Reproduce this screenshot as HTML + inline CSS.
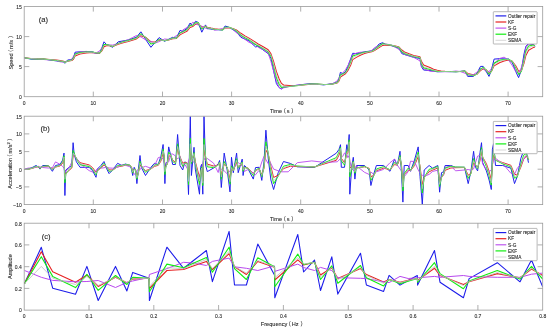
<!DOCTYPE html>
<html><head><meta charset="utf-8"><title>Filter comparison</title>
<style>html,body{margin:0;padding:0;background:#fff}svg{display:block}svg text{font-family:"Liberation Sans","Noto Sans CJK SC",sans-serif}</style></head>
<body>
<svg width="550" height="332" viewBox="0 0 550 332" font-family="Liberation Sans, Noto Sans CJK SC, sans-serif">
<rect width="550" height="332" fill="#fff"/>
<style>text{stroke:#333;stroke-width:0.1px;paint-order:stroke}</style>
<clipPath id="cpa"><rect x="24.2" y="6.5" width="518.5" height="90.2"/></clipPath>
<g clip-path="url(#cpa)" fill="none" stroke-linejoin="round">
<polyline points="24.5,57.8 30.9,59.1 43.6,59.1 56.4,60.9 63.6,61.8 64.9,63.3 67.6,60.0 71.8,59.6 73.6,57.3 75.1,52.2 80.0,51.8 92.7,51.8 95.5,53.3 99.6,53.3 101.8,48.2 104.0,41.8 106.4,44.5 109.1,45.5 112.7,47.3 118.2,41.8 128.2,40.0 136.4,37.3 140.9,31.8 145.5,39.1 150.9,47.3 159.1,37.6 164.5,41.3 172.7,37.3 176.4,38.2 180.0,30.4 182.7,31.5 187.3,28.2 190.0,23.1 192.7,25.5 195.5,21.3 198.2,22.4 201.8,32.2 205.5,24.9 207.3,28.5 214.5,29.6 222.7,30.0 225.1,26.0 229.1,27.3 236.4,31.8 240.9,37.3 249.1,40.9 255.5,46.9 258.2,46.4 268.2,53.6 270.9,58.2 273.6,70.9 276.4,83.6 279.1,87.6 281.5,89.1 283.6,86.9 289.1,86.4 300.0,84.9 310.9,83.6 323.6,84.9 332.7,83.6 337.3,81.8 339.1,78.2 340.4,72.4 342.7,73.6 345.5,71.8 348.2,65.5 350.9,58.2 352.7,53.3 357.3,53.6 364.5,51.8 371.8,50.9 374.5,49.1 379.1,44.0 382.7,42.7 385.5,44.5 391.8,45.8 399.1,48.2 401.8,53.6 404.5,54.5 413.6,57.3 420.0,58.5 421.3,66.4 423.6,70.0 430.0,70.5 437.3,71.8 445.0,71.5 455.9,71.8 465.0,70.9 467.7,76.4 473.2,76.4 476.8,73.6 480.5,66.4 483.2,66.4 485.9,70.9 489.0,76.4 491.4,70.0 494.1,59.1 499.5,58.7 508.6,59.1 512.3,62.7 515.9,71.8 518.6,77.6 521.4,70.0 524.1,53.6 525.9,46.4 528.6,43.6 533.2,44.5 535.0,46.4" stroke="#1c1cea" stroke-width="1.00"/>
<polyline points="24.5,57.8 30.9,58.4 37.2,58.7 43.6,58.9 50.0,59.4 56.4,60.1 60.0,60.6 63.6,61.2 64.9,62.1 67.6,61.2 71.8,60.5 73.6,59.0 75.1,56.0 80.0,54.1 86.3,53.1 92.7,52.5 95.5,52.9 99.6,53.1 101.8,50.9 104.0,46.8 106.4,45.8 109.1,45.6 112.7,46.4 118.2,44.3 123.2,42.8 128.2,41.5 132.3,40.2 136.4,38.9 140.9,35.7 145.5,37.2 150.9,41.8 155.0,42.1 159.1,40.1 164.5,40.6 168.6,40.0 172.7,38.8 176.4,38.5 180.0,34.9 182.7,33.4 187.3,31.0 190.0,27.5 192.7,26.6 195.5,24.2 198.2,23.4 201.8,27.4 205.5,26.3 207.3,27.3 210.9,28.1 214.5,28.8 218.6,29.2 222.7,29.6 225.1,28.0 229.1,27.7 232.8,28.5 236.4,30.0 240.9,33.3 245.0,35.9 249.1,38.1 255.5,42.1 258.2,44.0 263.2,46.7 268.2,49.8 270.9,53.6 273.6,61.4 276.4,71.4 279.1,78.7 281.5,83.4 283.6,85.0 289.1,85.6 294.6,85.6 300.0,85.3 305.4,84.8 310.9,84.3 317.2,84.3 323.6,84.6 328.1,84.4 332.7,84.0 337.3,83.0 339.1,80.9 340.4,77.1 342.7,75.5 345.5,73.8 348.2,70.1 350.9,64.7 352.7,59.6 357.3,56.9 360.9,55.0 364.5,53.6 368.1,52.6 371.8,51.8 374.5,50.6 379.1,47.6 382.7,45.4 385.5,45.0 391.8,45.4 395.5,46.1 399.1,47.0 401.8,50.0 404.5,52.0 409.1,53.8 413.6,55.4 420.0,56.8 421.3,61.1 423.6,65.1 430.0,67.5 433.6,69.2 437.3,70.3 441.1,70.9 445.0,71.2 450.4,71.4 455.9,71.6 460.4,71.5 465.0,71.2 467.7,73.5 473.2,74.8 476.8,74.3 480.5,70.7 483.2,68.8 485.9,69.7 489.0,72.7 491.4,71.5 494.1,65.9 499.5,62.7 504.1,61.0 508.6,60.1 512.3,61.3 515.9,66.0 518.6,71.2 521.4,70.7 524.1,63.0 525.9,55.5 528.6,50.2 533.2,47.6 535.0,47.1" stroke="#e62222" stroke-width="1.02"/>
<polyline points="24.5,58.2 30.9,58.6 37.2,59.0 43.6,59.5 50.0,60.0 56.4,60.6 60.0,61.8 63.6,62.1 64.9,61.9 67.6,61.3 71.8,59.1 73.6,56.1 75.1,53.8 80.0,51.8 86.3,51.4 92.7,52.7 95.5,53.2 99.6,51.0 101.8,47.9 104.0,45.0 106.4,44.4 109.1,44.9 112.7,45.1 118.2,43.4 123.2,41.4 128.2,39.8 132.3,37.7 136.4,35.5 140.9,36.9 145.5,39.8 150.9,41.5 155.0,43.1 159.1,41.6 164.5,39.0 168.6,39.4 172.7,38.2 176.4,35.6 180.0,33.5 182.7,30.0 187.3,27.3 190.0,25.6 192.7,22.3 195.5,23.6 198.2,25.0 201.8,26.2 205.5,28.1 207.3,28.8 210.9,28.2 214.5,30.2 218.6,29.5 222.7,28.5 225.1,27.7 229.1,27.4 232.8,29.2 236.4,32.8 240.9,35.7 245.0,39.4 249.1,42.4 255.5,44.6 258.2,47.4 263.2,49.6 268.2,53.1 270.9,61.3 273.6,71.1 276.4,80.8 279.1,87.3 281.5,88.9 283.6,87.8 289.1,86.6 294.6,85.5 300.0,84.8 305.4,84.2 310.9,84.1 317.2,84.3 323.6,84.5 328.1,84.5 332.7,83.7 337.3,80.8 339.1,77.7 340.4,75.2 342.7,72.9 345.5,69.8 348.2,65.1 350.9,59.2 352.7,54.8 357.3,52.7 360.9,52.2 364.5,52.2 368.1,51.7 371.8,50.3 374.5,47.7 379.1,45.3 382.7,43.8 385.5,43.9 391.8,45.1 395.5,47.3 399.1,49.6 401.8,52.1 404.5,54.5 409.1,55.7 413.6,57.3 420.0,60.9 421.3,65.0 423.6,68.7 430.0,71.2 433.6,71.5 437.3,71.5 441.1,71.7 445.0,71.7 450.4,71.7 455.9,71.0 460.4,71.6 465.0,73.2 467.7,75.1 473.2,74.8 476.8,72.2 480.5,68.6 483.2,68.8 485.9,71.3 489.0,71.7 491.4,68.6 494.1,63.4 499.5,58.5 504.1,57.2 508.6,60.1 512.3,65.5 515.9,71.7 518.6,72.9 521.4,67.6 524.1,57.4 525.9,47.8 528.6,43.7 533.2,44.3 535.0,45.5" stroke="#b848ee" stroke-width="0.93"/>
<polyline points="24.5,57.8 30.9,58.7 37.2,58.9 43.6,59.0 50.0,59.7 56.4,60.5 60.0,61.1 63.6,61.5 64.9,62.7 67.6,60.9 71.8,60.0 73.6,58.2 75.1,54.3 80.0,52.6 86.3,52.1 92.7,51.9 95.5,52.8 99.6,53.1 101.8,49.9 104.0,44.5 106.4,44.5 109.1,45.2 112.7,46.6 118.2,43.4 123.2,41.8 128.2,40.6 132.3,39.3 136.4,38.0 140.9,33.9 145.5,37.3 150.9,43.9 155.0,42.9 159.1,39.4 164.5,40.7 168.6,39.8 172.7,38.1 176.4,38.2 180.0,33.0 182.7,32.0 187.3,29.5 190.0,25.3 192.7,25.4 195.5,22.7 198.2,22.5 201.8,28.9 205.5,26.3 207.3,27.7 210.9,28.6 214.5,29.3 218.6,29.6 222.7,29.9 225.1,27.3 229.1,27.3 232.8,28.8 236.4,30.8 240.9,35.1 245.0,37.7 249.1,39.8 255.5,44.5 258.2,45.8 263.2,48.6 268.2,51.9 270.9,56.1 273.6,65.9 276.4,77.6 279.1,84.2 281.5,87.4 283.6,87.1 289.1,86.6 294.6,86.0 300.0,85.3 305.4,84.6 310.9,83.9 317.2,84.1 323.6,84.6 328.1,84.4 332.7,83.9 337.3,82.5 339.1,79.7 340.4,74.9 342.7,74.0 345.5,72.6 348.2,67.9 350.9,61.5 352.7,56.1 357.3,54.4 360.9,53.3 364.5,52.3 368.1,51.7 371.8,51.2 374.5,49.8 379.1,46.0 382.7,43.8 385.5,44.3 391.8,45.3 395.5,46.4 399.1,47.6 401.8,51.6 404.5,53.5 409.1,55.1 413.6,56.5 420.0,57.8 421.3,63.5 423.6,67.8 430.0,69.6 433.6,70.6 437.3,71.4 441.1,71.6 445.0,71.5 450.4,71.6 455.9,71.7 460.4,71.5 465.0,71.1 467.7,74.6 473.2,75.8 476.8,74.3 480.5,69.1 483.2,67.3 485.9,69.7 489.0,74.1 491.4,71.4 494.1,63.3 499.5,60.3 504.1,59.4 508.6,59.2 512.3,61.5 515.9,68.3 518.6,74.4 521.4,71.5 524.1,59.7 525.9,50.9 528.6,46.1 533.2,45.0 535.0,45.9" stroke="#12ee12" stroke-width="1.02"/>
<polyline points="24.5,57.8 30.9,58.5 37.2,58.8 43.6,59.0 50.0,59.6 56.4,60.3 60.0,60.9 63.6,61.4 64.9,62.5 67.6,61.1 71.8,60.3 73.6,58.6 75.1,55.0 80.0,53.2 86.3,52.4 92.7,52.1 95.5,52.8 99.6,53.1 101.8,50.3 104.0,45.6 106.4,45.0 109.1,45.3 112.7,46.4 118.2,43.8 123.2,42.2 128.2,41.0 132.3,39.7 136.4,38.3 140.9,34.7 145.5,37.2 150.9,42.8 155.0,42.6 159.1,39.8 164.5,40.6 168.6,39.9 172.7,38.4 176.4,38.3 180.0,33.9 182.7,32.5 187.3,30.1 190.0,26.2 192.7,25.8 195.5,23.3 198.2,22.8 201.8,28.1 205.5,26.3 207.3,27.5 210.9,28.4 214.5,29.1 218.6,29.5 222.7,29.8 225.1,27.7 229.1,27.5 232.8,28.6 236.4,30.4 240.9,34.3 245.0,37.0 249.1,39.2 255.5,43.5 258.2,45.1 263.2,47.9 268.2,51.1 270.9,55.1 273.6,63.9 276.4,74.9 279.1,82.0 281.5,86.0 283.6,86.5 289.1,86.4 294.6,86.0 300.0,85.4 305.4,84.7 310.9,84.1 317.2,84.2 323.6,84.6 328.1,84.4 332.7,84.0 337.3,82.7 339.1,80.2 340.4,75.8 342.7,74.6 345.5,73.0 348.2,68.8 350.9,62.9 352.7,57.5 357.3,55.3 360.9,53.9 364.5,52.7 368.1,51.9 371.8,51.4 374.5,50.1 379.1,46.7 382.7,44.5 385.5,44.5 391.8,45.2 395.5,46.2 399.1,47.3 401.8,50.8 404.5,52.9 409.1,54.6 413.6,56.1 420.0,57.4 421.3,62.5 423.6,66.7 430.0,68.8 433.6,70.1 437.3,71.1 441.1,71.4 445.0,71.5 450.4,71.6 455.9,71.7 460.4,71.5 465.0,71.2 467.7,74.1 473.2,75.4 476.8,74.4 480.5,69.9 483.2,67.9 485.9,69.6 489.0,73.4 491.4,71.5 494.1,64.6 499.5,61.3 504.1,59.9 508.6,59.5 512.3,61.3 515.9,67.2 518.6,73.0 521.4,71.3 524.1,61.4 525.9,53.0 528.6,47.7 533.2,45.9 535.0,46.2" stroke="#bcbcbc" stroke-width="0.74"/>
</g>
<rect x="24.2" y="6.5" width="518.5" height="90.2" fill="none" stroke="#9a9a9a" stroke-width="0.8"/>
<path d="M93.3 96.7v-5.1M93.3 6.5v5.1M162.5 96.7v-5.1M162.5 6.5v5.1M231.6 96.7v-5.1M231.6 6.5v5.1M300.7 96.7v-5.1M300.7 6.5v5.1M369.9 96.7v-5.1M369.9 6.5v5.1M439.0 96.7v-5.1M439.0 6.5v5.1M508.1 96.7v-5.1M508.1 6.5v5.1M24.2 66.6h5.1M542.7 66.6h-5.1M24.2 36.6h5.1M542.7 36.6h-5.1" stroke="#9a9a9a" stroke-width="0.8" fill="none"/>
<g font-size="5" fill="#2a2a2a" text-anchor="middle">
<text x="24.2" y="104.7">0</text>
<text x="93.3" y="104.7">10</text>
<text x="162.5" y="104.7">20</text>
<text x="231.6" y="104.7">30</text>
<text x="300.7" y="104.7">40</text>
<text x="369.9" y="104.7">50</text>
<text x="439.0" y="104.7">60</text>
<text x="508.1" y="104.7">70</text>
</g>
<g font-size="5" fill="#2a2a2a" text-anchor="end">
<text x="21.8" y="99.0">0</text>
<text x="21.8" y="68.9">5</text>
<text x="21.8" y="38.9">10</text>
<text x="21.8" y="8.8">15</text>
</g>
<text x="283.4" y="112.7" font-size="5.6" fill="#2a2a2a" text-anchor="middle" font-family="Liberation Sans, Noto Sans CJK SC, sans-serif">Time<tspan dx="-1.9">（</tspan><tspan dx="0.8">s</tspan><tspan dx="1.8">）</tspan></text>
<text transform="translate(12.6,51.0) rotate(-90)" font-size="5.6" fill="#2a2a2a" text-anchor="middle" font-family="Liberation Sans, Noto Sans CJK SC, sans-serif">Speed<tspan dx="-1.9">（</tspan><tspan dx="0.8">m/s</tspan><tspan dx="1.8">）</tspan></text>
<text x="38.8" y="22.1" font-size="7.6" fill="#222">(a)</text>
<rect x="493.3" y="11.7" width="43.8" height="32.3" fill="#fff" stroke="#8c8c8c" stroke-width="0.6" rx="0.6"/>
<path d="M495.5 15.9H506.3" stroke="#1c1cea" stroke-width="1.1800000000000002"/>
<text x="508.1" y="17.6" font-size="4.7" fill="#222">Outlier repair</text>
<path d="M495.5 22.0H506.3" stroke="#e62222" stroke-width="1.2000000000000002"/>
<text x="508.1" y="23.7" font-size="4.7" fill="#222">KF</text>
<path d="M495.5 28.1H506.3" stroke="#b848ee" stroke-width="1.1"/>
<text x="508.1" y="29.8" font-size="4.7" fill="#222">S-G</text>
<path d="M495.5 34.2H506.3" stroke="#12ee12" stroke-width="1.2000000000000002"/>
<text x="508.1" y="35.9" font-size="4.7" fill="#222">EKF</text>
<path d="M495.5 40.3H506.3" stroke="#bcbcbc" stroke-width="0.6"/>
<text x="508.1" y="42.0" font-size="4.7" fill="#222">SEMA</text>
<clipPath id="cpb"><rect x="24.2" y="116.2" width="518.5" height="88.4"/></clipPath>
<g clip-path="url(#cpb)" fill="none" stroke-linejoin="round">
<polyline points="24.5,169.5 28.2,169.1 32.7,167.3 36.0,165.5 38.2,166.9 40.0,169.1 42.7,165.5 48.2,165.5 52.4,171.3 55.5,165.5 60.0,164.5 62.7,160.0 64.0,153.1 64.9,195.5 65.8,170.0 69.1,167.3 71.8,165.5 73.1,142.7 74.2,154.5 76.4,161.8 80.0,167.3 89.1,167.3 92.7,170.9 96.0,177.3 97.3,169.1 100.9,165.5 104.0,161.5 106.4,168.2 109.1,173.6 112.7,170.0 117.6,163.3 121.8,165.5 125.5,164.0 130.0,165.5 131.5,169.1 132.7,175.5 134.2,167.3 135.5,170.0 136.9,183.6 138.2,170.9 140.0,155.5 141.3,167.3 145.5,175.5 150.9,167.3 154.5,163.3 158.2,164.5 160.9,156.4 163.1,144.5 164.0,158.2 164.9,183.6 165.8,163.6 167.3,161.8 168.7,146.9 170.9,156.4 172.7,164.5 175.5,164.5 177.6,134.5 180.0,165.5 182.7,170.0 184.9,161.8 187.3,163.6 188.5,194.5 190.3,116.4 191.4,175.5 194.0,147.3 195.3,169.1 199.5,194.2 200.6,167.3 201.6,164.4 202.8,194.2 204.0,116.4 205.6,165.0 207.3,171.6 213.6,168.0 218.2,164.0 219.6,160.5 221.3,187.5 224.2,153.1 227.3,170.9 230.0,191.9 231.5,157.3 233.3,172.7 236.6,153.1 238.2,172.7 242.2,159.1 243.1,175.5 244.5,165.5 248.2,169.1 253.3,179.1 255.5,167.6 259.1,167.3 261.8,180.4 264.0,161.8 265.9,130.2 268.2,158.2 270.9,180.0 273.6,189.5 278.2,172.7 283.5,161.5 290.5,163.5 297.0,166.8 314.5,167.4 336.3,153.2 339.0,149.4 340.5,144.7 341.3,167.3 344.5,167.3 346.8,144.7 347.8,150.9 349.2,134.5 349.8,194.2 351.8,165.5 353.3,157.3 354.9,179.1 356.4,165.5 364.5,165.5 369.1,170.0 370.9,185.5 373.6,174.5 376.4,165.5 383.6,165.5 390.0,171.3 394.5,159.1 397.3,165.5 400.0,151.3 401.5,172.7 402.9,202.1 404.2,165.5 408.2,165.5 410.5,171.3 414.5,160.0 418.2,146.9 420.0,176.4 422.3,204.4 424.2,170.0 429.1,165.5 432.7,168.2 437.8,165.5 438.7,178.2 439.6,192.2 441.5,172.7 443.6,171.8 445.1,165.5 450.9,165.5 455.5,167.3 464.5,167.3 468.2,183.6 470.9,171.5 473.6,151.3 475.5,167.3 477.6,170.9 480.0,152.7 481.5,142.7 482.7,162.7 486.4,170.9 489.1,180.0 491.3,189.5 492.4,149.1 493.6,143.6 495.5,165.5 502.7,165.5 510.9,168.2 514.5,183.6 517.3,176.4 520.9,158.2 523.6,150.9 526.4,152.7 528.5,162.7" stroke="#1c1cea" stroke-width="0.97"/>
<polyline points="24.5,169.5 28.2,169.3 32.7,168.3 36.0,167.0 38.2,166.9 40.0,168.0 42.7,166.8 48.2,166.2 52.4,168.6 55.5,167.1 60.0,165.9 62.7,163.1 64.0,158.3 64.9,176.1 65.8,173.2 69.1,170.4 71.8,168.0 73.1,155.9 74.2,155.2 76.4,158.4 80.0,162.7 89.1,164.9 92.7,167.8 96.0,172.3 97.3,170.8 100.9,168.2 104.0,165.0 106.4,166.5 109.1,169.9 112.7,170.0 117.6,166.8 121.8,166.2 125.5,165.1 130.0,165.3 131.5,167.1 132.7,171.1 134.2,169.3 135.5,169.6 136.9,176.3 138.2,173.7 140.0,165.0 141.3,166.1 145.5,170.6 150.9,169.0 154.5,166.3 158.2,165.4 160.9,161.1 163.1,153.1 164.0,155.6 164.9,169.0 165.8,166.4 167.3,164.2 168.7,155.9 170.9,156.1 172.7,160.2 175.5,162.2 177.6,148.9 180.0,156.9 182.7,163.2 184.9,162.5 187.3,163.0 188.5,178.1 190.3,148.5 191.4,161.5 194.0,154.7 195.3,161.6 199.5,177.2 200.6,172.5 201.6,168.6 202.8,180.9 204.0,149.9 205.6,157.2 207.3,164.1 213.6,166.0 218.2,165.0 219.6,162.9 221.3,174.7 224.2,164.3 227.3,167.5 230.0,179.2 231.5,168.7 233.3,170.6 236.6,162.2 238.2,167.2 242.2,163.3 243.1,169.2 244.5,167.4 248.2,168.2 253.3,173.4 255.5,170.6 259.1,169.0 261.8,174.5 264.0,168.4 265.9,150.1 268.2,154.0 270.9,166.5 273.6,177.5 278.2,175.2 283.5,168.6 290.5,166.2 297.0,166.5 314.5,166.9 336.3,160.3 339.0,155.1 340.5,150.1 341.3,158.4 344.5,162.6 346.8,154.0 347.8,152.5 349.2,143.9 349.8,168.0 351.8,166.8 353.3,162.2 354.9,170.3 356.4,168.0 364.5,166.8 369.1,168.3 370.9,176.6 373.6,175.6 376.4,170.7 383.6,168.2 390.0,169.7 394.5,164.6 397.3,165.0 400.0,158.4 401.5,165.3 402.9,183.0 404.2,174.6 408.2,170.2 410.5,170.7 414.5,165.6 418.2,156.6 420.0,166.1 422.3,184.5 424.2,177.5 429.1,171.8 432.7,170.1 437.8,167.9 438.7,172.8 439.6,182.1 441.5,177.6 443.6,174.8 445.1,170.3 450.9,168.0 455.5,167.7 464.5,167.5 468.2,175.2 470.9,173.4 473.6,162.8 475.5,165.0 477.6,167.8 480.0,160.6 481.5,152.0 482.7,157.1 486.4,163.7 489.1,171.5 491.3,180.2 492.4,165.3 493.6,154.9 495.5,160.0 502.7,162.6 510.9,165.3 514.5,174.1 517.3,175.2 520.9,167.0 523.6,159.3 526.4,156.1 528.5,159.3" stroke="#e62222" stroke-width="0.99"/>
<polyline points="24.5,169.0 28.2,168.1 32.7,167.8 36.0,167.3 38.2,166.3 40.0,166.9 42.7,167.5 48.2,168.0 52.4,167.7 55.5,161.9 60.0,164.3 62.7,166.5 64.0,168.2 64.9,172.7 65.8,171.4 69.1,167.6 71.8,162.1 73.1,154.3 74.2,156.1 76.4,157.9 80.0,163.6 89.1,170.6 92.7,172.1 96.0,170.9 97.3,168.8 100.9,168.1 104.0,167.8 106.4,166.9 109.1,168.0 112.7,168.2 117.6,167.3 121.8,164.9 125.5,165.3 130.0,166.8 131.5,167.6 132.7,170.6 134.2,174.4 135.5,173.3 136.9,170.5 138.2,169.5 140.0,169.8 141.3,167.8 145.5,166.3 150.9,168.2 154.5,165.7 158.2,157.7 160.9,156.9 163.1,159.1 164.0,162.7 164.9,163.0 165.8,163.1 167.3,162.8 168.7,161.8 170.9,154.2 172.7,154.0 175.5,156.0 177.6,159.0 180.0,156.5 182.7,166.5 184.9,164.4 187.3,168.5 188.5,160.9 190.3,155.7 191.4,159.6 194.0,162.7 195.3,162.6 199.5,182.1 200.6,172.9 201.6,170.2 202.8,162.9 204.0,158.2 205.6,160.7 207.3,158.5 213.6,163.2 218.2,172.5 219.6,165.7 221.3,169.7 224.2,170.9 227.3,173.9 230.0,171.1 231.5,168.3 233.3,168.4 236.6,164.9 238.2,162.6 242.2,166.0 243.1,167.6 244.5,171.4 248.2,169.4 253.3,173.0 255.5,174.8 259.1,170.3 261.8,162.0 264.0,156.4 265.9,159.6 268.2,163.7 270.0,161.8 273.6,169.1 280.9,171.8 288.2,171.8 297.3,162.7 311.8,160.9 324.5,162.4 337.3,161.8 342.7,156.4 344.5,153.0 346.8,154.2 347.8,157.6 349.2,155.6 349.8,161.1 351.8,168.4 353.3,170.5 354.9,170.1 356.4,165.8 364.5,172.3 369.1,174.4 370.9,172.0 373.6,174.2 376.4,171.8 383.6,169.4 390.0,162.7 394.5,159.1 397.3,165.1 400.0,169.0 401.5,171.1 402.9,175.6 404.2,176.7 408.2,171.7 410.5,161.2 414.5,161.6 418.2,169.8 420.0,173.0 422.3,175.2 424.2,176.3 429.1,174.4 432.7,171.4 437.8,170.2 438.7,176.6 439.6,178.2 441.5,176.8 443.6,174.0 445.1,167.4 450.9,165.8 455.5,170.8 464.5,170.0 468.2,169.5 470.9,170.2 473.6,168.9 475.5,162.6 477.6,156.1 480.0,155.6 481.5,158.0 482.7,164.1 486.4,169.5 489.1,171.3 491.3,170.3 492.4,164.6 493.6,159.0 495.5,158.3 502.7,163.6 510.9,173.3 514.5,174.3 517.3,168.3 520.9,163.9 523.6,159.4 526.4,155.6 528.5,156.9" stroke="#b848ee" stroke-width="0.90"/>
<polyline points="24.5,169.5 28.2,169.2 32.7,167.9 36.0,166.3 38.2,166.7 40.0,168.3 42.7,166.4 48.2,165.8 52.4,169.5 55.5,166.8 60.0,165.2 62.7,161.7 64.0,155.8 64.9,182.8 65.8,174.1 69.1,169.5 71.8,166.8 73.1,150.4 74.2,153.2 76.4,159.0 80.0,164.7 89.1,166.5 92.7,169.5 96.0,174.8 97.3,170.9 100.9,167.2 104.0,163.3 106.4,166.6 109.1,171.4 112.7,170.4 117.6,165.6 121.8,165.5 125.5,164.5 130.0,165.2 131.5,167.8 132.7,173.1 134.2,169.1 135.5,169.7 136.9,179.2 138.2,173.5 140.0,161.3 141.3,165.4 145.5,172.3 150.9,168.9 154.5,165.1 158.2,164.7 160.9,159.1 163.1,149.2 164.0,155.3 164.9,174.5 165.8,167.1 167.3,163.5 168.7,152.2 170.9,155.1 172.7,161.5 175.5,163.5 177.6,143.8 180.0,158.6 182.7,166.3 184.9,163.3 187.3,163.5 188.5,184.6 190.3,138.2 191.4,163.6 194.0,152.5 195.3,163.8 199.5,184.5 200.6,172.8 201.6,167.1 202.8,185.5 204.0,138.5 205.6,156.5 207.3,166.8 213.6,167.6 218.2,165.2 219.6,162.0 221.3,179.3 224.2,161.5 227.3,167.9 230.0,184.2 231.5,165.9 233.3,170.5 236.6,158.7 238.2,168.2 242.2,162.0 243.1,171.2 244.5,167.3 248.2,168.5 253.3,175.7 255.5,170.2 259.1,168.2 261.8,176.5 264.0,166.5 265.9,141.8 268.2,153.0 270.9,171.3 273.6,183.7 278.2,176.2 283.5,166.2 290.5,164.4 297.0,166.0 314.5,167.0 336.3,157.6 339.0,152.0 340.5,147.0 341.3,160.8 344.5,165.2 346.8,151.3 347.8,151.0 349.2,139.8 349.8,176.8 351.8,169.1 353.3,161.1 354.9,173.3 356.4,168.0 364.5,166.3 369.1,168.8 370.9,180.2 373.6,176.3 376.4,169.0 383.6,166.6 390.0,169.8 394.5,162.5 397.3,164.5 400.0,155.5 401.5,167.2 402.9,190.9 404.2,173.6 408.2,168.1 410.5,170.3 414.5,163.3 418.2,152.1 420.0,168.6 422.3,193.0 424.2,177.3 429.1,169.3 432.7,168.5 437.8,166.5 438.7,174.4 439.6,186.5 441.5,177.1 443.6,173.5 445.1,168.1 450.9,166.3 455.5,167.0 464.5,167.2 468.2,178.4 470.9,173.7 473.6,158.5 475.5,164.5 477.6,168.8 480.0,157.9 481.5,147.6 482.7,157.9 486.4,166.7 489.1,175.8 491.3,185.1 492.4,160.6 493.6,149.0 495.5,160.2 502.7,163.8 510.9,166.8 514.5,178.2 517.3,177.0 520.9,164.2 523.6,155.2 526.4,153.5 528.5,159.8" stroke="#12ee12" stroke-width="0.99"/>
<polyline points="24.5,169.5 28.2,169.3 32.7,168.1 36.0,166.6 38.2,166.8 40.0,168.1 42.7,166.6 48.2,166.0 52.4,169.1 55.5,167.0 60.0,165.5 62.7,162.3 64.0,157.0 64.9,179.3 65.8,173.9 69.1,170.1 71.8,167.4 73.1,153.1 74.2,153.9 76.4,158.5 80.0,163.6 89.1,165.7 92.7,168.7 96.0,173.7 97.3,171.0 100.9,167.8 104.0,164.2 106.4,166.5 109.1,170.6 112.7,170.3 117.6,166.2 121.8,165.8 125.5,164.8 130.0,165.2 131.5,167.5 132.7,172.1 134.2,169.3 135.5,169.7 136.9,177.8 138.2,173.8 140.0,163.2 141.3,165.6 145.5,171.3 150.9,169.0 154.5,165.7 158.2,165.0 160.9,160.0 163.1,151.0 164.0,155.2 164.9,171.7 165.8,167.0 167.3,164.0 168.7,154.1 170.9,155.4 172.7,160.7 175.5,162.9 177.6,146.4 180.0,157.5 182.7,164.7 184.9,163.0 187.3,163.4 188.5,181.4 190.3,143.7 191.4,162.1 194.0,153.5 195.3,162.6 199.5,180.9 200.6,173.0 201.6,168.0 202.8,183.2 204.0,144.5 205.6,156.4 207.3,165.2 213.6,166.8 218.2,165.2 219.6,162.5 221.3,177.0 224.2,163.1 227.3,167.6 230.0,181.7 231.5,167.6 233.3,170.5 236.6,160.4 238.2,167.5 242.2,162.6 243.1,170.1 244.5,167.4 248.2,168.4 253.3,174.6 255.5,170.5 259.1,168.7 261.8,175.5 264.0,167.5 265.9,145.9 268.2,153.0 270.9,168.7 273.6,180.8 278.2,176.1 283.5,167.6 290.5,165.2 297.0,166.1 314.5,166.9 336.3,158.9 339.0,153.4 340.5,148.4 341.3,159.3 344.5,164.0 346.8,152.8 347.8,151.7 349.2,141.7 349.8,172.2 351.8,168.3 353.3,161.9 354.9,171.9 356.4,168.2 364.5,166.6 369.1,168.6 370.9,178.4 373.6,176.1 376.4,170.0 383.6,167.4 390.0,169.7 394.5,163.5 397.3,164.7 400.0,156.9 401.5,166.1 402.9,187.0 404.2,174.5 408.2,169.3 410.5,170.5 414.5,164.4 418.2,154.2 420.0,167.1 422.3,188.7 424.2,177.9 429.1,170.7 432.7,169.2 437.8,167.1 438.7,173.5 439.6,184.4 441.5,177.6 443.6,174.2 445.1,169.2 450.9,167.0 455.5,167.2 464.5,167.3 468.2,176.7 470.9,173.7 473.6,160.7 475.5,164.5 477.6,168.2 480.0,159.2 481.5,149.6 482.7,157.2 486.4,165.2 489.1,173.8 491.3,182.9 492.4,163.3 493.6,151.9 495.5,159.8 502.7,163.1 510.9,166.1 514.5,176.2 517.3,176.3 520.9,165.8 523.6,157.2 526.4,154.6 528.5,159.3" stroke="#bcbcbc" stroke-width="0.72"/>
</g>
<rect x="24.2" y="116.2" width="518.5" height="88.4" fill="none" stroke="#9a9a9a" stroke-width="0.8"/>
<path d="M93.3 204.6v-5.1M93.3 116.2v5.1M162.5 204.6v-5.1M162.5 116.2v5.1M231.6 204.6v-5.1M231.6 116.2v5.1M300.7 204.6v-5.1M300.7 116.2v5.1M369.9 204.6v-5.1M369.9 116.2v5.1M439.0 204.6v-5.1M439.0 116.2v5.1M508.1 204.6v-5.1M508.1 116.2v5.1M24.2 186.9h5.1M542.7 186.9h-5.1M24.2 169.2h5.1M542.7 169.2h-5.1M24.2 151.6h5.1M542.7 151.6h-5.1M24.2 133.9h5.1M542.7 133.9h-5.1" stroke="#9a9a9a" stroke-width="0.8" fill="none"/>
<g font-size="5" fill="#2a2a2a" text-anchor="middle">
<text x="24.2" y="212.6">0</text>
<text x="93.3" y="212.6">10</text>
<text x="162.5" y="212.6">20</text>
<text x="231.6" y="212.6">30</text>
<text x="300.7" y="212.6">40</text>
<text x="369.9" y="212.6">50</text>
<text x="439.0" y="212.6">60</text>
<text x="508.1" y="212.6">70</text>
</g>
<g font-size="5" fill="#2a2a2a" text-anchor="end">
<text x="21.8" y="206.9">−10</text>
<text x="21.8" y="189.2">−5</text>
<text x="21.8" y="171.5">0</text>
<text x="21.8" y="153.9">5</text>
<text x="21.8" y="136.2">10</text>
<text x="21.8" y="118.5">15</text>
</g>
<text x="283.4" y="220.6" font-size="5.6" fill="#2a2a2a" text-anchor="middle" font-family="Liberation Sans, Noto Sans CJK SC, sans-serif">Time<tspan dx="-1.9">（</tspan><tspan dx="0.8">s</tspan><tspan dx="1.8">）</tspan></text>
<text transform="translate(12.2,161.9) rotate(-90)" font-size="5.6" fill="#2a2a2a" text-anchor="middle" font-family="Liberation Sans, Noto Sans CJK SC, sans-serif">Acceleration<tspan dx="-1.9">（</tspan><tspan dx="0.8">m/s</tspan><tspan font-size="4" dy="-2.2">2</tspan><tspan dy="2.2" dx="1.6">）</tspan></text>
<text x="40.6" y="131.0" font-size="7.6" fill="#222">(b)</text>
<rect x="493.3" y="121.4" width="43.8" height="32.3" fill="#fff" stroke="#8c8c8c" stroke-width="0.6" rx="0.6"/>
<path d="M495.5 125.6H506.3" stroke="#1c1cea" stroke-width="1.1800000000000002"/>
<text x="508.1" y="127.3" font-size="4.7" fill="#222">Outlier repair</text>
<path d="M495.5 131.7H506.3" stroke="#e62222" stroke-width="1.2000000000000002"/>
<text x="508.1" y="133.4" font-size="4.7" fill="#222">KF</text>
<path d="M495.5 137.8H506.3" stroke="#b848ee" stroke-width="1.1"/>
<text x="508.1" y="139.5" font-size="4.7" fill="#222">S-G</text>
<path d="M495.5 143.9H506.3" stroke="#12ee12" stroke-width="1.2000000000000002"/>
<text x="508.1" y="145.6" font-size="4.7" fill="#222">EKF</text>
<path d="M495.5 150.0H506.3" stroke="#bcbcbc" stroke-width="0.6"/>
<text x="508.1" y="151.7" font-size="4.7" fill="#222">SEMA</text>
<clipPath id="cpc"><rect x="24.2" y="223.2" width="518.5" height="86.9"/></clipPath>
<g clip-path="url(#cpc)" fill="none" stroke-linejoin="round">
<polyline points="24.5,283.6 41.3,247.3 52.7,288.2 75.5,294.2 86.9,266.4 98.2,300.5 115.5,266.4 126.9,290.9 132.7,272.4 149.1,278.2 149.4,300.5 166.9,247.2 183.6,268.3 194.5,259.8 206.4,250.5 212.4,281.7 229.1,231.4 234.5,285.0 246.4,285.0 257.8,244.1 274.5,275.0 274.8,297.7 297.8,234.5 303.6,272.0 314.5,260.0 320.5,290.5 331.8,256.8 337.8,294.1 360.5,253.2 366.4,285.0 383.6,291.4 389.1,275.4 400.0,285.1 408.2,280.5 417.3,275.5 417.6,285.1 434.5,250.5 440.0,282.2 463.4,297.8 469.1,278.6 497.3,262.7 520.0,281.8 531.5,260.0 542.7,286.9" stroke="#1c1cea" stroke-width="1.08"/>
<polyline points="24.5,283.6 41.3,251.8 52.7,271.8 75.5,282.2 86.9,275.0 98.2,286.4 115.5,277.3 126.9,282.7 132.7,279.1 149.1,278.2 149.4,288.5 166.9,270.5 183.6,269.5 194.5,265.6 206.4,261.4 212.4,269.5 229.1,253.7 234.5,266.8 246.4,274.5 257.8,261.4 274.5,267.2 274.8,280.0 297.8,259.9 303.6,265.0 314.5,262.3 320.5,275.0 331.8,267.7 337.8,278.6 360.5,268.6 366.4,274.6 383.6,281.9 389.1,279.5 400.0,282.2 408.2,280.3 417.3,278.5 417.6,280.4 434.5,268.2 440.0,275.5 463.4,284.5 469.1,281.8 497.3,273.6 520.0,277.8 531.5,269.1 542.7,275.5" stroke="#e62222" stroke-width="1.10"/>
<polyline points="24.5,270.5 41.3,277.3 52.7,280.4 75.5,281.8 86.9,281.5 98.2,280.5 115.5,287.5 126.9,282.4 132.7,281.0 149.1,277.3 149.4,274.5 166.9,268.6 183.6,262.3 194.5,263.2 206.4,265.5 212.4,261.4 229.1,258.1 234.5,266.8 246.4,268.3 257.8,270.5 274.5,265.9 274.8,271.4 297.8,264.1 303.6,267.5 314.5,270.5 320.5,267.4 331.8,270.5 337.8,277.7 360.5,278.3 366.4,278.6 383.6,281.9 389.1,282.6 400.0,276.4 408.2,278.5 417.3,277.8 417.6,277.8 434.5,276.4 440.0,277.3 463.4,275.5 469.1,276.4 497.3,277.3 520.0,277.3 531.5,274.2 542.7,273.1" stroke="#b848ee" stroke-width="1.00"/>
<polyline points="24.5,283.6 41.3,256.7 52.7,276.4 75.5,287.6 86.9,274.3 98.2,290.4 115.5,275.5 126.9,284.5 132.7,277.3 149.1,278.2 149.4,291.8 166.9,264.1 183.6,267.7 194.5,262.8 206.4,257.4 212.4,272.3 229.1,247.2 234.5,268.6 246.4,279.5 257.8,257.7 274.5,266.8 274.8,286.8 297.8,254.1 303.6,264.5 314.5,262.3 320.5,279.5 331.8,265.9 337.8,283.2 360.5,265.5 366.4,277.7 383.6,285.9 389.1,279.5 400.0,283.6 408.2,281.2 417.3,278.5 417.6,282.2 434.5,262.7 440.0,273.6 463.4,288.7 469.1,280.9 497.3,270.5 520.0,279.1 531.5,266.4 542.7,279.1" stroke="#12ee12" stroke-width="1.10"/>
<polyline points="24.5,283.6 41.3,266.4 52.7,278.2 75.5,284.5 86.9,276.4 98.2,285.5 115.5,277.3 126.9,282.4 132.7,279.1 149.1,278.2 149.4,286.4 166.9,267.7 183.6,268.6 194.5,264.2 206.4,259.5 212.4,268.6 229.1,251.4 234.5,266.5 246.4,273.2 257.8,260.5 274.5,266.8 274.8,277.7 297.8,257.7 303.6,264.1 314.5,262.3 320.5,276.8 331.8,267.4 337.8,279.5 360.5,267.7 366.4,275.4 383.6,283.2 389.1,279.5 400.0,282.5 408.2,280.5 417.3,278.5 417.6,281.0 434.5,266.4 440.0,275.0 463.4,285.5 469.1,281.5 497.3,272.7 520.0,278.0 531.5,268.2 542.7,276.4" stroke="#bcbcbc" stroke-width="0.80"/>
</g>
<rect x="24.2" y="223.2" width="518.5" height="86.9" fill="none" stroke="#9a9a9a" stroke-width="0.8"/>
<path d="M89.0 310.1v-5.1M89.0 223.2v5.1M153.8 310.1v-5.1M153.8 223.2v5.1M218.6 310.1v-5.1M218.6 223.2v5.1M283.4 310.1v-5.1M283.4 223.2v5.1M348.3 310.1v-5.1M348.3 223.2v5.1M413.1 310.1v-5.1M413.1 223.2v5.1M477.9 310.1v-5.1M477.9 223.2v5.1M24.2 288.4h5.1M542.7 288.4h-5.1M24.2 266.7h5.1M542.7 266.7h-5.1M24.2 244.9h5.1M542.7 244.9h-5.1" stroke="#9a9a9a" stroke-width="0.8" fill="none"/>
<g font-size="5" fill="#2a2a2a" text-anchor="middle">
<text x="24.2" y="318.1">0</text>
<text x="89.0" y="318.1">0.1</text>
<text x="153.8" y="318.1">0.2</text>
<text x="218.6" y="318.1">0.3</text>
<text x="283.4" y="318.1">0.4</text>
<text x="348.3" y="318.1">0.5</text>
<text x="413.1" y="318.1">0.6</text>
<text x="477.9" y="318.1">0.7</text>
<text x="542.7" y="318.1">0.8</text>
</g>
<g font-size="5" fill="#2a2a2a" text-anchor="end">
<text x="21.8" y="312.4">0</text>
<text x="21.8" y="290.7">0.2</text>
<text x="21.8" y="269.0">0.4</text>
<text x="21.8" y="247.2">0.6</text>
<text x="21.8" y="225.5">0.8</text>
</g>
<text x="283.4" y="326.1" font-size="5.6" fill="#2a2a2a" text-anchor="middle" font-family="Liberation Sans, Noto Sans CJK SC, sans-serif">Frequency<tspan dx="-1.9">（</tspan><tspan dx="0.8">Hz</tspan><tspan dx="1.8">）</tspan></text>
<text transform="translate(11.6,266.6) rotate(-90)" font-size="5.6" fill="#2a2a2a" text-anchor="middle" font-family="Liberation Sans, Noto Sans CJK SC, sans-serif">Amplitude</text>
<text x="41.8" y="239.4" font-size="7.6" fill="#222">(c)</text>
<rect x="493.3" y="228.4" width="43.8" height="32.3" fill="#fff" stroke="#8c8c8c" stroke-width="0.6" rx="0.6"/>
<path d="M495.5 232.6H506.3" stroke="#1c1cea" stroke-width="1.1800000000000002"/>
<text x="508.1" y="234.3" font-size="4.7" fill="#222">Outlier repair</text>
<path d="M495.5 238.7H506.3" stroke="#e62222" stroke-width="1.2000000000000002"/>
<text x="508.1" y="240.4" font-size="4.7" fill="#222">KF</text>
<path d="M495.5 244.8H506.3" stroke="#b848ee" stroke-width="1.1"/>
<text x="508.1" y="246.5" font-size="4.7" fill="#222">S-G</text>
<path d="M495.5 250.9H506.3" stroke="#12ee12" stroke-width="1.2000000000000002"/>
<text x="508.1" y="252.6" font-size="4.7" fill="#222">EKF</text>
<path d="M495.5 257.0H506.3" stroke="#bcbcbc" stroke-width="0.6"/>
<text x="508.1" y="258.7" font-size="4.7" fill="#222">SEMA</text>
</svg>
</body></html>
